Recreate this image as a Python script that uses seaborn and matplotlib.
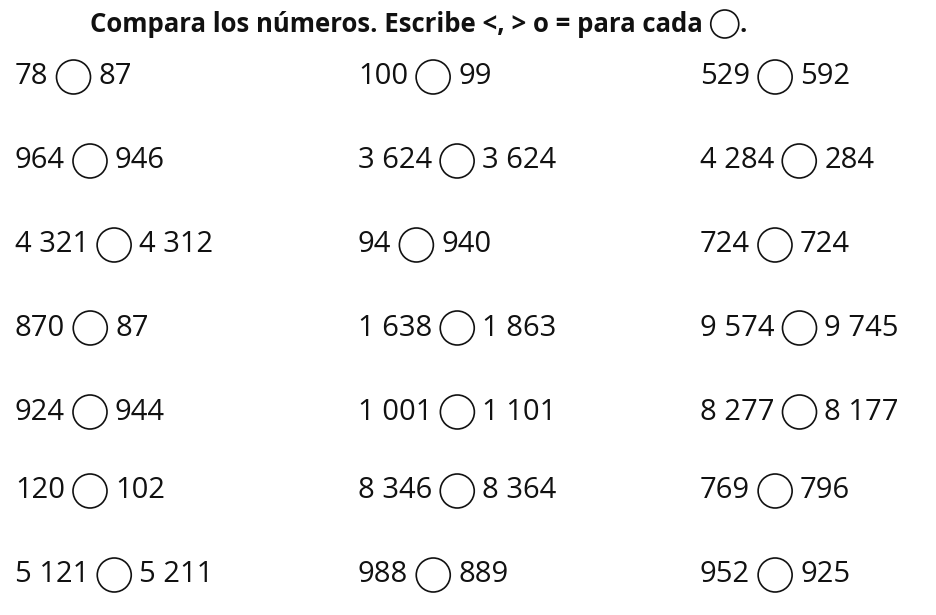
import matplotlib
matplotlib.use("Agg")
import matplotlib.pyplot as plt
import seaborn as sns
from matplotlib.patches import Circle

sns.set_theme(style="white")
plt.rcParams['font.family'] = ['Open Sans', 'DejaVu Sans']

title = "Compara los números. Escribe <, > o = para cada"
col1_left = ["78", "964", "4 321", "870", "924", "120", "5 121"]
col1_right = ["87", "946", "4 312", "87", "944", "102", "5 211"]
col2_left = ["100", "3 624", "94", "1 638", "1 001", "8 346", "988"]
col2_right = ["99", "3 624", "940", "1 863", "1 101", "8 364", "889"]
col3_left = ["529", "4 284", "724", "9 574", "8 277", "769", "952"]
col3_right = ["592", "284", "724", "9 745", "8 177", "796", "925"]

W, H = 937, 615
fig = plt.figure(figsize=(W/100, H/100), dpi=100)
ax = fig.add_axes([0, 0, 1, 1])
ax.set_xlim(0, W); ax.set_ylim(H, 0); ax.axis('off')
fig.canvas.draw()
r = fig.canvas.get_renderer()

def width(t):
    return t.get_window_extent(renderer=r).width

R = 17
t = ax.text(90, 24, title, fontsize=18.5, fontweight='bold', va='center', ha='left', color='#111')
tw = width(t)
cx = 90 + tw + 8 + 14
ax.add_patch(Circle((cx, 24), 14, fill=False, lw=1.2, ec='#111'))
ax.text(cx + 15, 24, ".", fontsize=18.5, fontweight='bold', va='center', ha='left', color='#111')

rows_y = [77, 161, 245, 328, 412, 491, 575]
cols = [(15, col1_left, col1_right), (358, col2_left, col2_right), (700, col3_left, col3_right)]
for x0, L, Rt in cols:
    for y, a, b in zip(rows_y, L, Rt):
        ta = ax.text(x0, y, a, fontsize=21, va='center', ha='left', color='#111')
        w = width(ta)
        c = x0 + w + 8 + R
        ax.add_patch(Circle((c, y), R, fill=False, lw=1.2, ec='#111'))
        ax.text(c + R + 8, y, b, fontsize=21, va='center', ha='left', color='#111')

fig.savefig("out.png", dpi=100)
